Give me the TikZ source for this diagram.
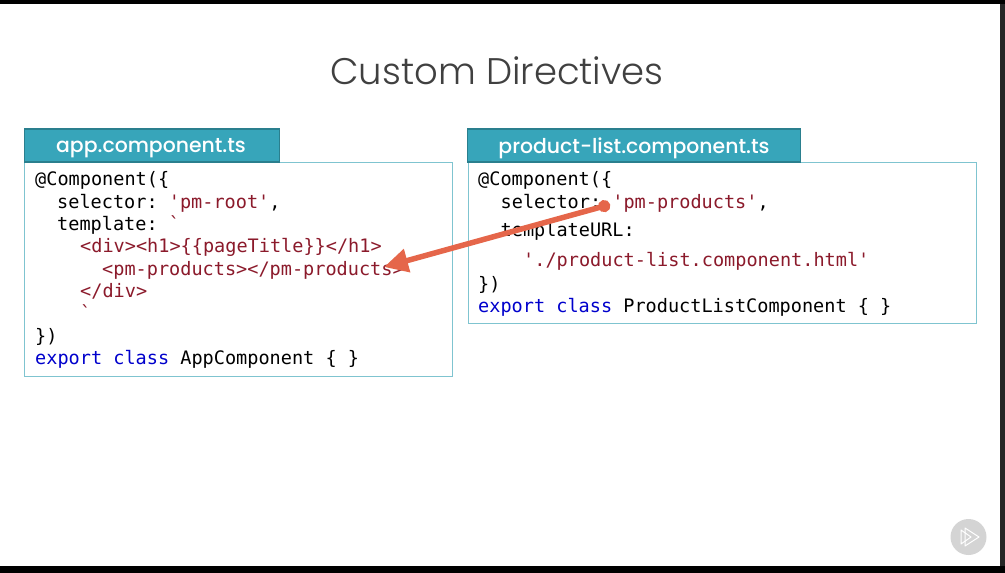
\documentclass[tikz,border=0pt]{standalone}
\usepackage{fontspec}
\setmainfont{Poppins}[UprightFont=* Light, BoldFont=* Medium]
\setmonofont{DejaVu Sans Mono}
\usetikzlibrary{arrows.meta}
\definecolor{tabfill}{HTML}{37A5BA}
\definecolor{tabline}{HTML}{2A7F8E}
\definecolor{boxline}{HTML}{7FC4D0}
\definecolor{codered}{HTML}{8B1A2B}
\definecolor{codeblue}{HTML}{0000CC}
\definecolor{pointer}{HTML}{E5664A}
\tikzset{
	tabbox/.style={draw=tabline, line width=1.5pt, fill=tabfill},
	tabtext/.style={text=white, font=\fontsize{20.4}{24}\selectfont\bfseries},
	codebox/.style={draw=boxline, line width=1pt},
	codeline/.style={anchor=base west, inner sep=0pt, font=\fontsize{18.55}{22}\ttfamily},
}
\begin{document}
\begin{tikzpicture}[x=1pt,y=-1pt]
	\useasboundingbox (0,0) rectangle (1005,573);
	\fill[black] (0,0) rectangle (1005,4);
	\fill[black] (0,566) rectangle (1005,573);
	\fill[black!85] (1000,4) rectangle (1005,566);
	\node (title) at (497,71) {\fontsize{37}{44}\selectfont\color{black!75}Custom Directives};
	% left box
	\draw[codebox] (24.5,162) rectangle (452.5,376);
	\draw[tabbox] (24.5,129) rectangle (279.5,162);
	\node[tabtext] (apptab) at (151,148) {app.component.ts};
	\node[codeline] (a1) at (35,185) {@Component(\{};
	\node[codeline] (a2) at (57,208) {selector: \textcolor{codered}{'pm-root'},};
	\node[codeline] (a3) at (57,230) {template: \textcolor{codered}{`}};
	\node[codeline,text=codered] (a4) at (80,252) {<div><h1>\{\{pageTitle\}\}</h1>};
	\node[codeline,text=codered] (a5) at (102,275) {<pm-products></pm-products>};
	\node[codeline,text=codered] (a6) at (80,297) {</div>};
	\node[codeline,text=codered] (a7) at (80,319) {`};
	\node[codeline] (a8) at (35,342) {\})};
	\node[codeline] (a9) at (35,364) {\textcolor{codeblue}{export class} AppComponent \{ \}};
	% right box
	\draw[codebox] (468.5,162) rectangle (976.5,323);
	\draw[tabbox] (467.5,129) rectangle (800.5,162);
	\node[tabtext] (listtab) at (634,148) {product-list.component.ts};
	\node[codeline] (b1) at (478,185) {@Component(\{};
	\node[codeline] (b2) at (500.5,208) {selector: \textcolor{codered}{'pm-products'},};
	\node[codeline] (b3) at (500.5,236) {templateURL:};
	\node[codeline,text=codered] (b4) at (523,266) {'./product-list.component.html'};
	\node[codeline] (b5) at (478,290) {\})};
	\node[codeline] (b6) at (478,312) {\textcolor{codeblue}{export class} ProductListComponent \{ \}};
	% pointer
	\coordinate (from) at (610,204.5);
	\coordinate (to) at (384,267);
	\draw[pointer, line width=5.5pt, {Circle[length=12pt]}-{Triangle[length=24pt,width=23pt]}] (from)--(to);
	% badge
	\fill[black!17] (968.5,537) circle (18);
	\draw[white, line width=1pt, line join=round] (965,528)--(979,537)--(965,546)--cycle;
	\draw[white, line width=1pt, line join=round] (961,530)--(971,537)--(961,544)--cycle;
\end{tikzpicture}
\end{document}
